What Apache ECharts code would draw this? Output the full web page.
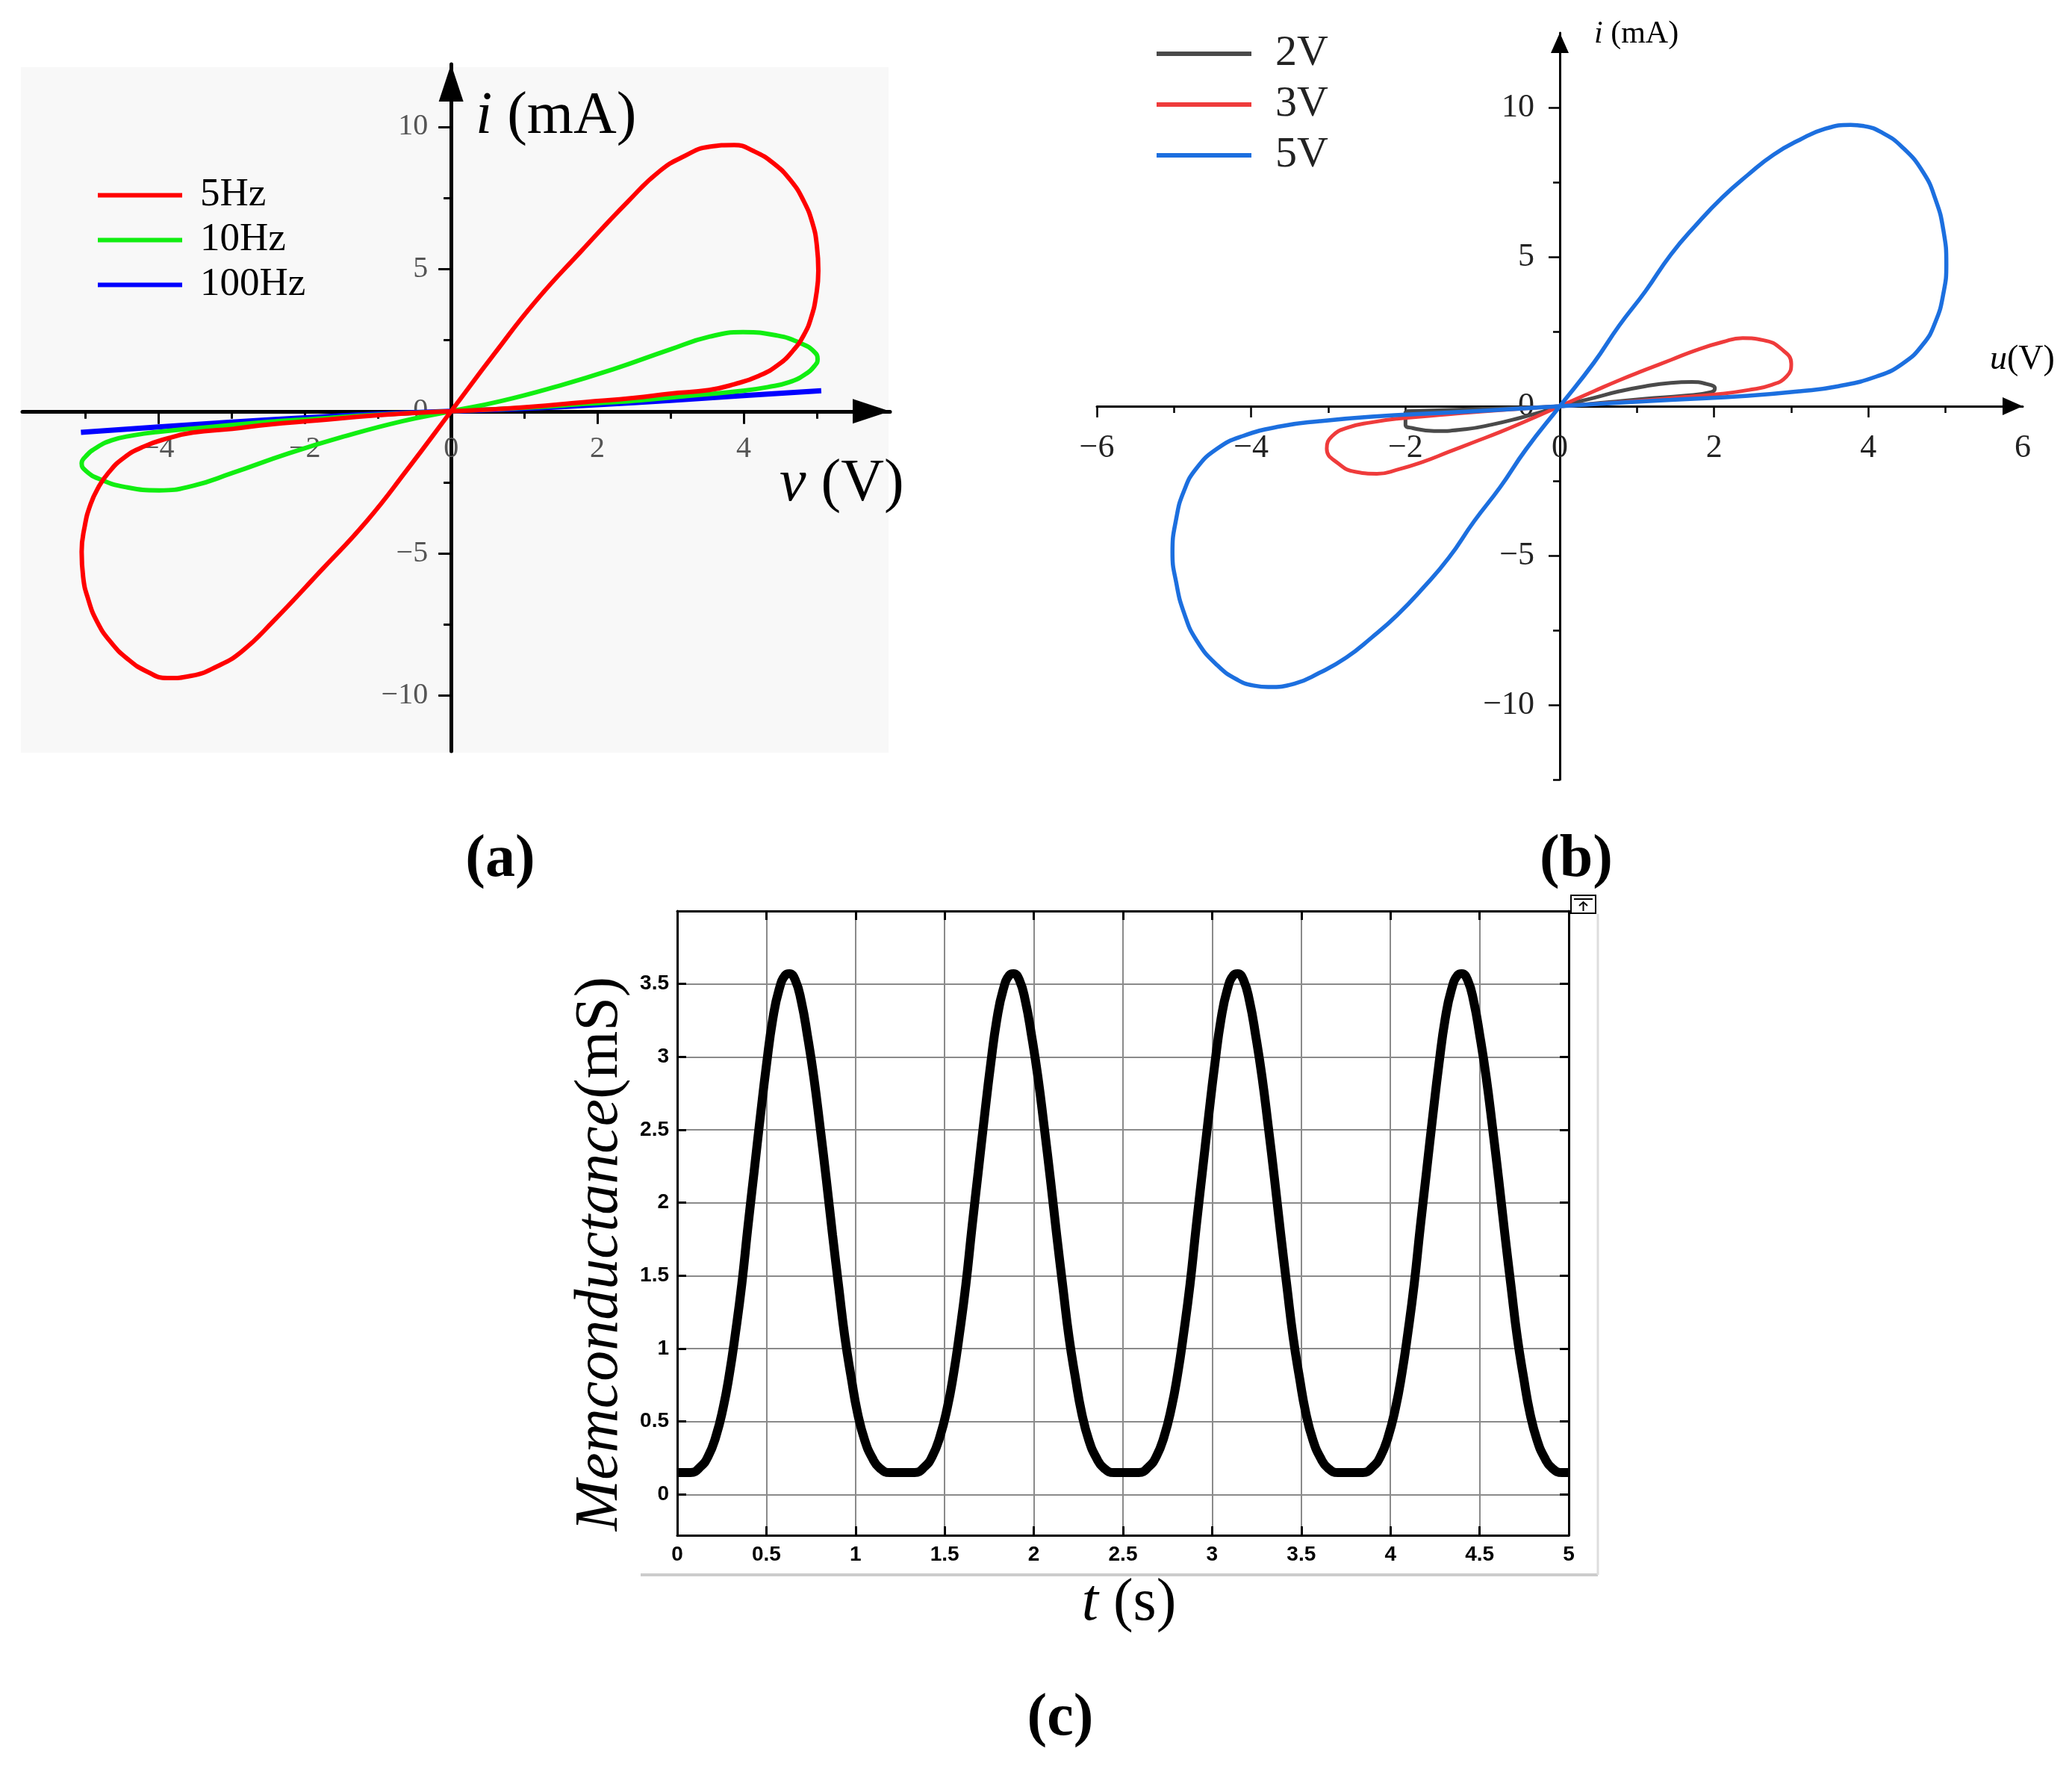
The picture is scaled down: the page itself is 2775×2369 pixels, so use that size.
<!DOCTYPE html>
<html>
<head>
<meta charset="utf-8">
<title>Memristor i-v loops and memconductance</title>
<script src="https://cdn.jsdelivr.net/npm/echarts@6.0.0/dist/echarts.min.js"></script>
<style>
    html, body { margin: 0; padding: 0; background: #fff; }
    #chart { width: 2775px; height: 2369px; }
</style>
</head>
<body>
<div id="chart"></div>
<script>
// (a) pinched loops at 5 V for three frequencies, points are [v (V), i (mA)]
const loop5Hz = [[0, 0], [0.5, 0.06], [1.06, 0.15], [1.83, 0.32], [2.51, 0.47], [2.99, 0.62], [3.53, 0.75], [3.87, 0.95],
    [4.21, 1.25], [4.48, 1.65], [4.68, 2.15], [4.82, 2.67], [4.92, 3.28], [4.99, 4.07], [5.02, 4.94], [5.0, 5.82],
    [4.94, 6.61], [4.82, 7.39], [4.65, 8.09], [4.41, 8.71], [4.14, 9.14], [3.87, 9.36], [3.53, 9.3], [3.19, 8.97],
    [2.85, 8.44], [2.42, 7.38], [1.79, 5.66], [1.15, 3.85], [0.6, 2.05], [0, 0],
    [-0.6, -2.05], [-1.15, -3.85], [-1.8, -5.66], [-2.43, -7.38], [-2.86, -8.44], [-3.2, -8.97], [-3.55, -9.3],
    [-3.88, -9.38], [-4.15, -9.16], [-4.42, -8.71], [-4.66, -8.09], [-4.84, -7.39], [-4.96, -6.61], [-5.03, -5.82],
    [-5.05, -4.94], [-5.01, -4.07], [-4.93, -3.28], [-4.82, -2.67], [-4.68, -2.15], [-4.48, -1.65], [-4.21, -1.25],
    [-3.87, -0.95], [-3.53, -0.75], [-2.99, -0.62], [-2.51, -0.47], [-1.83, -0.32], [-1.06, -0.15], [-0.5, -0.06], [0, 0]];
const loop10Hz = [[0, 0], [1.06, 0.13], [1.83, 0.26], [2.6, 0.39], [3.37, 0.57], [3.99, 0.72], [4.33, 0.85], [4.62, 1.02],
    [4.84, 1.3], [4.97, 1.6], [5.01, 1.83], [4.96, 2.1], [4.78, 2.39], [4.46, 2.66], [3.99, 2.78], [3.53, 2.62],
    [2.99, 2.17], [2.22, 1.48], [1.44, 0.87], [0.67, 0.35], [0, 0], [-0.67, -0.35], [-1.44, -0.87], [-2.22, -1.48],
    [-2.99, -2.17], [-3.53, -2.62], [-3.99, -2.78], [-4.46, -2.66], [-4.8, -2.39], [-4.99, -2.1], [-5.05, -1.83],
    [-5.0, -1.6], [-4.86, -1.3], [-4.64, -1.02], [-4.35, -0.85], [-3.99, -0.72], [-3.37, -0.57], [-2.6, -0.39],
    [-1.83, -0.26], [-1.06, -0.13], [0, 0]];
const loop100Hz = [[-5.06, -0.74], [-4, -0.55], [-3, -0.38], [-2, -0.23], [-1, -0.1], [0, 0], [1, 0.1], [2, 0.23],
    [3, 0.38], [4, 0.55], [5.06, 0.72]];

// (b) loops at 5 Hz for three amplitudes, [u (V), i (mA)]
const loop2V = [[-2.0, -0.17], [-2.0, -0.62], [-1.91, -0.73], [-1.63, -0.83], [-1.22, -0.77], [-0.87, -0.61],
    [-0.53, -0.4], [-0.18, -0.15], [0, 0], [0.44, 0.28], [0.77, 0.5], [1.11, 0.67], [1.44, 0.78], [1.71, 0.81],
    [1.91, 0.74], [2.01, 0.6], [1.96, 0.47], [1.61, 0.35], [1.11, 0.25], [0.61, 0.13], [0, 0], [-0.5, -0.05],
    [-1.0, -0.09], [-1.5, -0.13], [-2.0, -0.17]];
const loop3V = [[0, 0], [0.77, 0.13], [1.44, 0.27], [2.11, 0.42], [2.44, 0.54], [2.74, 0.71], [2.94, 1.0], [3.0, 1.42],
    [2.87, 1.92], [2.64, 2.21], [2.37, 2.28], [2.11, 2.15], [1.77, 1.88], [1.44, 1.55], [1.11, 1.22], [0.77, 0.87],
    [0.44, 0.5], [0, 0], [-0.44, -0.5], [-0.77, -0.86], [-1.11, -1.2], [-1.44, -1.53], [-1.77, -1.86],
    [-2.11, -2.13], [-2.37, -2.26], [-2.64, -2.2], [-2.87, -1.92], [-3.02, -1.42], [-2.95, -1.0], [-2.74, -0.71],
    [-2.44, -0.54], [-2.11, -0.42], [-1.44, -0.27], [-0.77, -0.13], [0, 0]];
const loop5V = [[0, 0], [0.44, 0.07], [1.44, 0.21], [2.44, 0.35], [3.11, 0.5], [3.61, 0.67], [4.11, 1.0], [4.44, 1.42],
    [4.71, 2.08], [4.87, 2.83], [4.97, 3.75], [5.01, 4.75], [4.97, 5.92], [4.87, 6.92], [4.71, 7.83], [4.44, 8.67],
    [4.17, 9.17], [3.94, 9.38], [3.77, 9.42], [3.44, 9.29], [3.11, 8.92], [2.77, 8.42], [2.44, 7.75], [2.11, 7.0],
    [1.77, 6.08], [1.44, 5.08], [1.11, 3.85], [0.77, 2.7], [0.44, 1.45], [0, 0], [-0.44, -1.45], [-0.77, -2.7],
    [-1.11, -3.85], [-1.44, -5.08], [-1.77, -6.08], [-2.11, -7.0], [-2.44, -7.75], [-2.77, -8.42], [-3.11, -8.92],
    [-3.44, -9.29], [-3.78, -9.4], [-3.95, -9.36], [-4.17, -9.17], [-4.44, -8.67], [-4.71, -7.83], [-4.87, -6.92],
    [-4.97, -5.92], [-5.02, -4.9], [-4.97, -3.75], [-4.87, -2.83], [-4.71, -2.08], [-4.44, -1.42], [-4.11, -1.0],
    [-3.61, -0.67], [-3.11, -0.5], [-2.44, -0.35], [-1.44, -0.21], [-0.44, -0.07], [0, 0]];

// (c) memconductance against time, read peak by peak
const timeS = [0, 0.075, 0.131, 0.173, 0.215, 0.257, 0.292, 0.327, 0.362, 0.396, 0.431, 0.466, 0.501, 0.536, 0.571,
    0.606, 0.629, 0.661, 0.696, 0.731, 0.766, 0.801, 0.836, 0.871, 0.906, 0.94, 0.976, 1.011, 1.052, 1.094, 1.136,
    1.192, 1.257,
    1.332, 1.388, 1.43, 1.472, 1.514, 1.549, 1.584, 1.619, 1.653, 1.688, 1.723, 1.758, 1.793, 1.828, 1.863, 1.886,
    1.918, 1.953, 1.988, 2.023, 2.058, 2.093, 2.128, 2.163, 2.197, 2.233, 2.268, 2.309, 2.351, 2.393, 2.449, 2.514,
    2.589, 2.645, 2.687, 2.729, 2.771, 2.806, 2.841, 2.876, 2.91, 2.945, 2.98, 3.015, 3.05, 3.085, 3.12, 3.143,
    3.175, 3.21, 3.245, 3.28, 3.315, 3.35, 3.385, 3.42, 3.454, 3.49, 3.525, 3.566, 3.608, 3.65, 3.706, 3.771,
    3.846, 3.902, 3.944, 3.986, 4.028, 4.063, 4.098, 4.133, 4.167, 4.202, 4.237, 4.272, 4.307, 4.342, 4.377, 4.4,
    4.432, 4.467, 4.502, 4.537, 4.572, 4.607, 4.642, 4.677, 4.711, 4.747, 4.782, 4.823, 4.865, 4.907, 4.963, 5.0];
const memG = [0.15, 0.15, 0.19, 0.26, 0.39, 0.59, 0.82, 1.11, 1.44, 1.83, 2.21, 2.59, 2.95, 3.26, 3.46,
    3.56, 3.57, 3.53, 3.38, 3.14, 2.86, 2.52, 2.16, 1.78, 1.42, 1.08, 0.8, 0.56, 0.37, 0.25, 0.18,
    0.15, 0.15,
    0.15, 0.19, 0.26, 0.39, 0.59, 0.82, 1.11, 1.44, 1.83, 2.21, 2.59, 2.95, 3.26, 3.46, 3.56, 3.57,
    3.53, 3.38, 3.14, 2.86, 2.52, 2.16, 1.78, 1.42, 1.08, 0.8, 0.56, 0.37, 0.25, 0.18, 0.15, 0.15,
    0.15, 0.19, 0.26, 0.39, 0.59, 0.82, 1.11, 1.44, 1.83, 2.21, 2.59, 2.95, 3.26, 3.46, 3.56, 3.57,
    3.53, 3.38, 3.14, 2.86, 2.52, 2.16, 1.78, 1.42, 1.08, 0.8, 0.56, 0.37, 0.25, 0.18, 0.15, 0.15,
    0.15, 0.19, 0.26, 0.39, 0.59, 0.82, 1.11, 1.44, 1.83, 2.21, 2.59, 2.95, 3.26, 3.46, 3.56, 3.57,
    3.53, 3.38, 3.14, 2.86, 2.52, 2.16, 1.78, 1.42, 1.08, 0.8, 0.56, 0.37, 0.25, 0.18, 0.15, 0.15];

// tick positions and labels
const aXLabels = [-4, -2, 0, 2, 4];
const aXMajor = [-4, -2, 2, 4];
const aXMinor = [-5, -3, -1, 1, 3, 5];
const aYLabels = [-10, -5, 0, 5, 10];
const aYMajor = [-10, -5, 5, 10];
const aYMinor = [-7.5, -2.5, 2.5, 7.5];
const bXLabels = [-6, -4, -2, 0, 2, 4, 6];
const bXMajor = [-6, -4, -2, 2, 4];
const bXMinor = [-5, -3, -1, 1, 3, 5];
const bYLabels = [-10, -5, 0, 5, 10];
const bYMajor = [-10, -5, 5, 10];
const bYMinor = [-12.5, -7.5, -2.5, 2.5, 7.5];
const cYTicks = [0, 0.5, 1, 1.5, 2, 2.5, 3, 3.5];

const SERIF = 'Liberation Serif';

// panel boxes and value ranges
const boxA = {left: 30, top: 86, width: 1162, height: 920, x: [-5.86, 6], y: [-11.95, 12.2]};
const boxB = {left: 1469, top: 44, width: 1240, height: 1000, x: [-6, 6], y: [-12.5, 12.5]};

function minusFmt(v) {
    return v < 0 ? '\u2212' + String(-v) : String(v);
}

// distance from the box edge to the zero line, so the axis can be pulled onto it
function zeroShift(box, dim) {
    if (dim === 'x') {
        return -(box.height * (0 - box.y[0]) / (box.y[1] - box.y[0]));
    }
    return -(box.width * (0 - box.x[0]) / (box.x[1] - box.x[0]));
}

// one axis through zero with arrow + a second, invisible one for the short ticks
function crossAxes(dim, gridIndex, box, major, minor, labels, s) {
    const pos = dim === 'x' ? 'bottom' : 'left';
    const range = dim === 'x' ? box.x : box.y;
    const offset = zeroShift(box, dim);
    return [{
        type: 'value', gridIndex: gridIndex, min: range[0], max: range[1], position: pos, offset: offset,
        axisLine: {
            show: true, onZero: false, symbol: ['none', 'triangle'],
            symbolSize: s.arrow, symbolOffset: [0, -s.arrow[1] / 2],
            lineStyle: {color: '#000', width: s.line}
        },
        axisTick: {show: true, customValues: major, length: s.major, lineStyle: {color: '#000', width: s.tick}},
        minorTick: {show: false},
        axisLabel: {
            show: true, customValues: labels, formatter: minusFmt, margin: s.margin,
            fontFamily: SERIF, fontSize: s.font, color: s.color
        },
        splitLine: {show: false}
    }, {
        type: 'value', gridIndex: gridIndex, min: range[0], max: range[1], position: pos, offset: offset,
        axisLine: {show: false, onZero: false},
        axisTick: {show: true, customValues: minor, length: s.minor, lineStyle: {color: '#000', width: s.tick}},
        minorTick: {show: false},
        axisLabel: {show: false},
        splitLine: {show: false}
    }];
}

function loopSeries(name, data, color, width, axisIndex, z) {
    return {
        type: 'line', name: name, data: data, xAxisIndex: axisIndex, yAxisIndex: axisIndex,
        symbol: 'none', smooth: 0.5, z: z, silent: true,
        lineStyle: {color: color, width: width}, itemStyle: {color: color},
        emphasis: {disabled: true}
    };
}

const styleA = {arrow: [33, 50], line: 5, tick: 3, major: 17, minor: 10, margin: 31, font: 40, color: '#555'};
const styleB = {arrow: [24, 27], line: 3, tick: 2.5, major: 15, minor: 9, margin: 34, font: 44, color: '#222'};

const xAxes = []
    .concat(crossAxes('x', 0, boxA, aXMajor, aXMinor, aXLabels, styleA))
    .concat(crossAxes('x', 1, boxB, bXMajor, bXMinor, bXLabels, styleB))
    .concat([{
        type: 'value', gridIndex: 2, min: 0, max: 5, interval: 0.5, position: 'bottom',
        axisLine: {onZero: false, lineStyle: {color: '#000', width: 3}},
        axisTick: {show: true, inside: true, length: 12, lineStyle: {color: '#000', width: 3}},
        axisLabel: {margin: 12, fontFamily: 'Liberation Sans', fontWeight: 'bold', fontSize: 28, color: '#000'},
        splitLine: {show: true, lineStyle: {color: '#8a8a8a', width: 2}}
    }, {
        type: 'value', gridIndex: 2, min: 0, max: 5, interval: 0.5, position: 'top',
        axisLine: {onZero: false, lineStyle: {color: '#000', width: 3}},
        axisTick: {show: true, inside: true, length: 12, lineStyle: {color: '#000', width: 3}},
        axisLabel: {show: false},
        splitLine: {show: false}
    }]);

const yAxes = []
    .concat(crossAxes('y', 0, boxA, aYMajor, aYMinor, aYLabels, styleA))
    .concat(crossAxes('y', 1, boxB, bYMajor, bYMinor, bYLabels, styleB))
    .concat([{
        type: 'value', gridIndex: 2, min: -0.28, max: 4, position: 'left',
        axisLine: {onZero: false, lineStyle: {color: '#000', width: 3}},
        axisTick: {show: true, inside: true, customValues: cYTicks, length: 12, lineStyle: {color: '#000', width: 3}},
        axisLabel: {customValues: cYTicks, margin: 11, fontFamily: 'Liberation Sans', fontWeight: 'bold', fontSize: 28, color: '#000'},
        splitLine: {show: true, lineStyle: {color: '#8a8a8a', width: 2}}
    }, {
        type: 'value', gridIndex: 2, min: -0.28, max: 4, position: 'right',
        axisLine: {onZero: false, lineStyle: {color: '#000', width: 3}},
        axisTick: {show: true, inside: true, customValues: cYTicks, length: 12, lineStyle: {color: '#000', width: 3}},
        axisLabel: {show: false},
        splitLine: {show: false}
    }]);

function axisTitle(x, y, text, size, align) {
    return {
        type: 'text', x: x, y: y, z: 5,
        style: {
            text: text, font: size + 'px "' + SERIF + '"', fill: '#000',
            align: align || 'left', verticalAlign: 'middle',
            rich: {
                it: {fontStyle: 'italic', fontFamily: SERIF, fontSize: size, fill: '#000'},
                n: {fontFamily: SERIF, fontSize: size, fill: '#000'}
            }
        }
    };
}

function panelTag(x, y, text) {
    return {
        type: 'text', x: x, y: y, z: 5,
        style: {text: text, font: 'bold 80px "' + SERIF + '"', fill: '#000', align: 'center', verticalAlign: 'middle'}
    };
}

const yTitle = axisTitle(804, 1679, '{it|Memconductance}{n|(mS)}', 82, 'center');
yTitle.rotation = Math.PI / 2;

const chart = echarts.init(document.getElementById('chart'), null, {renderer: 'canvas'});

chart.setOption({
    animation: false,
    backgroundColor: '#fff',
    grid: [
        {left: boxA.left, top: boxA.top, width: boxA.width, height: boxA.height, outerBoundsMode: 'none'},
        {left: boxB.left, top: boxB.top, width: boxB.width, height: boxB.height, outerBoundsMode: 'none'},
        {left: 907, top: 1220, width: 1194, height: 836, outerBoundsMode: 'none'}
    ],
    legend: [{
        data: ['5Hz', '10Hz', '100Hz'], orient: 'vertical', left: 131, top: 235, padding: 0,
        icon: 'rect', itemWidth: 113, itemHeight: 6, itemGap: 7, selectedMode: false,
        textStyle: {fontFamily: SERIF, fontSize: 53, lineHeight: 53, color: '#000', padding: [0, 0, 0, 19]}
    }, {
        data: ['2V', '3V', '5V'], orient: 'vertical', left: 1549, top: 43, padding: 0,
        icon: 'rect', itemWidth: 127, itemHeight: 6, itemGap: 10, selectedMode: false,
        textStyle: {fontFamily: SERIF, fontSize: 58, lineHeight: 58, color: '#222', padding: [0, 0, 0, 27]}
    }],
    xAxis: xAxes,
    yAxis: yAxes,
    series: [
        loopSeries('100Hz', loop100Hz, '#0000ff', 7, 0, 3),
        loopSeries('10Hz', loop10Hz, '#11ee11', 6, 0, 4),
        loopSeries('5Hz', loop5Hz, '#ff0000', 6, 0, 5),
        loopSeries('2V', loop2V, '#4a4a4a', 5, 2, 3),
        loopSeries('3V', loop3V, '#ef3b3b', 5, 2, 4),
        loopSeries('5V', loop5V, '#1c6fdf', 5.5, 2, 5),
        {
            type: 'line', name: 'G', xAxisIndex: 4, yAxisIndex: 4,
            data: timeS.map(function (t, i) { return [t, memG[i]]; }),
            symbol: 'none', smooth: 0.5, silent: true, z: 5,
            lineStyle: {color: '#000', width: 12}, itemStyle: {color: '#000'},
            emphasis: {disabled: true}
        }
    ],
    graphic: [
        // faint stippled plot area of panel (a)
        {type: 'rect', z: -10, shape: {x: 28, y: 90, width: 1162, height: 918}, style: {fill: '#f8f8f8'}},
        axisTitle(637, 157, '{it|i} {n|(mA)}', 80),
        axisTitle(1044, 649, '{it|v} {n|(V)}', 80),
        axisTitle(2135, 46, '{it|i} {n|(mA)}', 42),
        axisTitle(2665, 482, '{it|u}{n|(V)}', 46),
        yTitle,
        axisTitle(1512, 2148, '{it|t} {n|(s)}', 80, 'center'),
        panelTag(670, 1152, '(a)'),
        panelTag(2111, 1152, '(b)'),
        panelTag(1420, 2302, '(c)'),
        // figure window edge and button of panel (c)
        {type: 'line', shape: {x1: 858, y1: 2109, x2: 2140, y2: 2109}, style: {stroke: '#cccccc', lineWidth: 4}},
        {type: 'line', shape: {x1: 2140, y1: 1224, x2: 2140, y2: 2109}, style: {stroke: '#dddddd', lineWidth: 3}},
        {type: 'rect', shape: {x: 2104, y: 1199, width: 33, height: 24}, style: {fill: '#fff', stroke: '#000', lineWidth: 2}},
        {type: 'line', shape: {x1: 2108, y1: 1204, x2: 2133, y2: 1204}, style: {stroke: '#000', lineWidth: 2}},
        {type: 'line', shape: {x1: 2120.5, y1: 1208, x2: 2120.5, y2: 1220}, style: {stroke: '#000', lineWidth: 2}},
        {type: 'polyline', shape: {points: [[2115, 1213], [2120.5, 1208], [2126, 1213]]}, style: {stroke: '#000', lineWidth: 2, fill: null}}
    ]
});
</script>
</body>
</html>
